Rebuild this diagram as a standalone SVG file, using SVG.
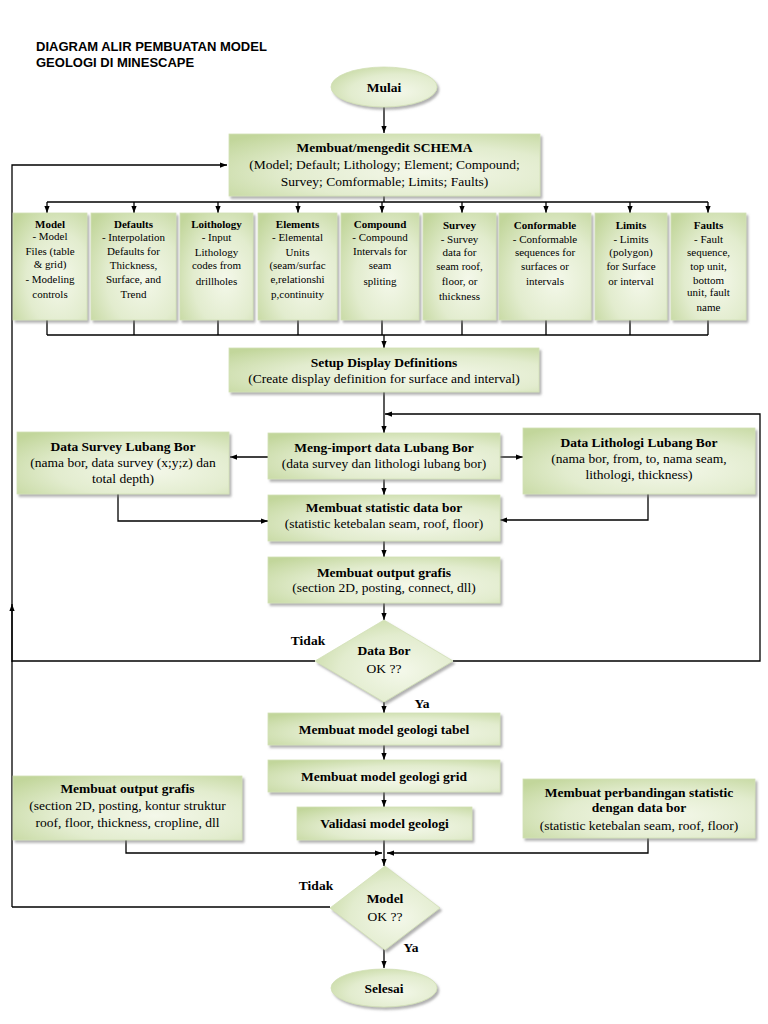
<svg xmlns="http://www.w3.org/2000/svg" width="768" height="1024" viewBox="0 0 768 1024">
<defs>
<radialGradient id="g" cx="0.62" cy="0.62" r="0.8">
<stop offset="0" stop-color="#f4f8ea"/>
<stop offset="0.55" stop-color="#e2ecce"/>
<stop offset="1" stop-color="#c2d69b"/>
</radialGradient>
<filter id="sh" x="-10%" y="-10%" width="125%" height="130%">
<feDropShadow dx="2" dy="2.5" stdDeviation="1" flood-color="#7f7f7f" flood-opacity="0.6"/>
</filter>
<marker id="ah" viewBox="0 0 8 6" refX="8" refY="3" markerWidth="7" markerHeight="5.5" markerUnits="userSpaceOnUse" orient="auto">
<path d="M0,0 L8,3 L0,6 z" fill="#000"/>
</marker>
</defs>
<style>
.n{fill:url(#g);stroke:#d2e0b6;stroke-width:0.8;filter:url(#sh)}
.t{font-family:"Liberation Serif","Times New Roman",serif;font-size:13.5px;fill:#000;text-anchor:middle}
.b{font-weight:bold}
.s{font-family:"Liberation Serif","Times New Roman",serif;font-size:11px;fill:#000;text-anchor:middle}
.c{fill:none;stroke:#000;stroke-width:1.3}
.a{marker-end:url(#ah)}
.hd{font-family:"Liberation Sans",Arial,sans-serif;font-size:13px;font-weight:bold;fill:#000}
</style>
<rect width="768" height="1024" fill="#fff"/>
<g id="title">
<text class="hd" x="36" y="51">DIAGRAM ALIR PEMBUATAN MODEL</text>
<text class="hd" x="36" y="67">GEOLOGI DI MINESCAPE</text>
</g>
<g id="connectors">
<path class="c a" d="M384,107 V133"/>
<path class="c" d="M384,196 V202"/>
<path class="c" d="M47,202 H708"/>
<path class="c a" d="M47,202 V213"/>
<path class="c a" d="M134,202 V213"/>
<path class="c a" d="M218,202 V213"/>
<path class="c a" d="M298,202 V213"/>
<path class="c a" d="M382,202 V213"/>
<path class="c a" d="M462,202 V213"/>
<path class="c a" d="M546,202 V213"/>
<path class="c a" d="M630,202 V213"/>
<path class="c a" d="M708,202 V213"/>
<path class="c" d="M47,320 V335 M134,320 V335 M218,320 V335 M298,320 V335 M382,320 V335 M462,320 V335 M546,320 V335 M630,320 V335 M708,320 V335"/>
<path class="c" d="M47,335 H708"/>
<path class="c a" d="M384,335 V348"/>
<path class="c a" d="M384,392 V433"/>
<path class="c a" d="M453,661 H760 V414 H385"/>
<path class="c a" d="M268,457 H230"/>
<path class="c a" d="M500,457 H523"/>
<path class="c a" d="M384,479 V495"/>
<path class="c a" d="M118,494 V521 H268"/>
<path class="c a" d="M648,494 V520 H500"/>
<path class="c a" d="M384,541 V557"/>
<path class="c a" d="M384,603 V620"/>
<path class="c" d="M315,661 H12"/>
<path class="c" d="M330,907 H12"/>
<path class="c a" d="M12,907 V165 H227"/>
<path class="c a" d="M12,662 V604"/>
<path class="c a" d="M384,702 V713"/>
<path class="c a" d="M384,745 V760"/>
<path class="c a" d="M384,792 V807"/>
<path class="c a" d="M384,840 V866"/>
<path class="c a" d="M126,840 V853 H382"/>
<path class="c a" d="M648,838 V853 H387"/>
<path class="c a" d="M384,949 V968"/>
</g>
<g id="mulai">
<ellipse class="n" cx="384" cy="87" rx="53" ry="20"/>
<text class="t b" x="384" y="92">Mulai</text>
</g>
<g id="schema">
<rect class="n" x="229" y="134" width="311" height="62"/>
<text class="t b" x="384.5" y="152">Membuat/mengedit SCHEMA</text>
<text class="t" x="384.5" y="169">(Model; Default; Lithology; Element; Compound;</text>
<text class="t" x="384.5" y="186">Survey; Comformable; Limits; Faults)</text>
</g>
<g id="model">
<rect class="n" x="13" y="213" width="74" height="107"/>
<text class="s b" x="50" y="227.5">Model</text>
<text class="s" x="50" y="240">- Model</text>
<text class="s" x="50" y="255">Files (table</text>
<text class="s" x="50" y="268">&amp; grid)</text>
<text class="s" x="50" y="283">- Modeling</text>
<text class="s" x="50" y="298">controls</text>
</g>
<g id="defaults">
<rect class="n" x="91" y="213" width="85" height="107"/>
<text class="s b" x="133.5" y="227.5">Defaults</text>
<text class="s" x="133.5" y="241">- Interpolation</text>
<text class="s" x="133.5" y="255">Defaults for</text>
<text class="s" x="133.5" y="268.5">Thickness,</text>
<text class="s" x="133.5" y="283">Surface, and</text>
<text class="s" x="133.5" y="298">Trend</text>
</g>
<g id="loithology">
<rect class="n" x="180" y="213" width="73" height="107"/>
<text class="s b" x="216.5" y="227.5">Loithology</text>
<text class="s" x="216.5" y="241">- Input</text>
<text class="s" x="216.5" y="255.5">Lithology</text>
<text class="s" x="216.5" y="268.5">codes from</text>
<text class="s" x="216.5" y="284.5">drillholes</text>
</g>
<g id="elements">
<rect class="n" x="258" y="213" width="79" height="107"/>
<text class="s b" x="297.5" y="227.5">Elements</text>
<text class="s" x="297.5" y="241">- Elemental</text>
<text class="s" x="297.5" y="255.5">Units</text>
<text class="s" x="297.5" y="268.5">(seam/surfac</text>
<text class="s" x="297.5" y="283">e,relationshi</text>
<text class="s" x="297.5" y="298">p,continuity</text>
</g>
<g id="compound">
<rect class="n" x="341" y="213" width="78" height="107"/>
<text class="s b" x="380" y="227.5">Compound</text>
<text class="s" x="380" y="241">- Compound</text>
<text class="s" x="380" y="255">Intervals for</text>
<text class="s" x="380" y="268.5">seam</text>
<text class="s" x="380" y="284.5">spliting</text>
</g>
<g id="survey">
<rect class="n" x="423" y="213" width="73" height="107"/>
<text class="s b" x="459.5" y="228.5">Survey</text>
<text class="s" x="459.5" y="242.5">- Survey</text>
<text class="s" x="459.5" y="255.5">data for</text>
<text class="s" x="459.5" y="269.5">seam roof,</text>
<text class="s" x="459.5" y="284.5">floor, or</text>
<text class="s" x="459.5" y="299.5">thickness</text>
</g>
<g id="conformable">
<rect class="n" x="499" y="213" width="92" height="107"/>
<text class="s b" x="545" y="228.5">Conformable</text>
<text class="s" x="545" y="242.5">- Conformable</text>
<text class="s" x="545" y="255.5">sequences for</text>
<text class="s" x="545" y="269.5">surfaces or</text>
<text class="s" x="545" y="284.5">intervals</text>
</g>
<g id="limits">
<rect class="n" x="595" y="213" width="72" height="107"/>
<text class="s b" x="631" y="228.5">Limits</text>
<text class="s" x="631" y="242.5">- Limits</text>
<text class="s" x="631" y="255.5">(polygon)</text>
<text class="s" x="631" y="269.5">for Surface</text>
<text class="s" x="631" y="284.5">or interval</text>
</g>
<g id="faults">
<rect class="n" x="671" y="213" width="75" height="107"/>
<text class="s b" x="708.5" y="228.5">Faults</text>
<text class="s" x="708.5" y="242.5">- Fault</text>
<text class="s" x="708.5" y="255.5">sequence,</text>
<text class="s" x="708.5" y="269.5">top unit,</text>
<text class="s" x="708.5" y="283.5">bottom</text>
<text class="s" x="708.5" y="296">unit, fault</text>
<text class="s" x="708.5" y="311">name</text>
</g>
<g id="setup">
<rect class="n" x="229" y="348" width="310" height="44"/>
<text class="t b" x="384" y="367">Setup Display Definitions</text>
<text class="t" x="384" y="383">(Create display definition for surface and interval)</text>
</g>
<g id="datasurvey">
<rect class="n" x="17" y="432" width="212" height="62"/>
<text class="t b" x="123" y="451">Data Survey Lubang Bor</text>
<text class="t" x="123" y="467">(nama bor, data survey (x;y;z) dan</text>
<text class="t" x="123" y="483">total depth)</text>
</g>
<g id="import">
<rect class="n" x="268" y="433" width="232" height="46"/>
<text class="t b" x="384" y="452">Meng-import data Lubang Bor</text>
<text class="t" x="384" y="468">(data survey dan lithologi lubang bor)</text>
</g>
<g id="datalitho">
<rect class="n" x="523" y="428" width="232" height="66"/>
<text class="t b" x="639" y="447">Data Lithologi Lubang Bor</text>
<text class="t" x="639" y="463">(nama bor, from, to, nama seam,</text>
<text class="t" x="639" y="479">lithologi, thickness)</text>
</g>
<g id="statistic">
<rect class="n" x="268" y="495" width="232" height="46"/>
<text class="t b" x="384" y="512">Membuat statistic data bor</text>
<text class="t" x="384" y="528">(statistic ketebalan seam, roof, floor)</text>
</g>
<g id="output1">
<rect class="n" x="268" y="557" width="232" height="46"/>
<text class="t b" x="384" y="577">Membuat output grafis</text>
<text class="t" x="384" y="592">(section 2D, posting, connect, dll)</text>
</g>
<g id="databor">
<polygon class="n" points="384,620 453,661 384,702 315,661"/>
<text class="t b" x="384" y="655">Data Bor</text>
<text class="t" x="384" y="673">OK ??</text>
</g>
<g id="labels">
<text class="t b" x="308" y="645">Tidak</text>
<text class="t b" x="422" y="708">Ya</text>
<text class="t b" x="316" y="890">Tidak</text>
<text class="t b" x="411" y="952">Ya</text>
</g>
<g id="tabel">
<rect class="n" x="268" y="713" width="232" height="32"/>
<text class="t b" x="384" y="734">Membuat model geologi tabel</text>
</g>
<g id="grid">
<rect class="n" x="268" y="760" width="232" height="32"/>
<text class="t b" x="384" y="781">Membuat model geologi grid</text>
</g>
<g id="validasi">
<rect class="n" x="297" y="807" width="175" height="33"/>
<text class="t b" x="384.5" y="828">Validasi model geologi</text>
</g>
<g id="output2">
<rect class="n" x="13" y="776" width="229" height="64"/>
<text class="t b" x="127.5" y="793">Membuat output grafis</text>
<text class="t" x="127.5" y="810">(section 2D, posting, kontur struktur</text>
<text class="t" x="127.5" y="827">roof, floor, thickness, cropline, dll</text>
</g>
<g id="perbandingan">
<rect class="n" x="523" y="779" width="232" height="59"/>
<text class="t b" x="639" y="797">Membuat perbandingan statistic</text>
<text class="t b" x="639" y="812">dengan data bor</text>
<text class="t" x="639" y="830">(statistic ketebalan seam, roof, floor)</text>
</g>
<g id="modelok">
<polygon class="n" points="385,866 440,908 385,950 330,908"/>
<text class="t b" x="385" y="903">Model</text>
<text class="t" x="385" y="921">OK ??</text>
</g>
<g id="selesai">
<ellipse class="n" cx="384" cy="988" rx="53" ry="19"/>
<text class="t b" x="384" y="993">Selesai</text>
</g>
</svg>
